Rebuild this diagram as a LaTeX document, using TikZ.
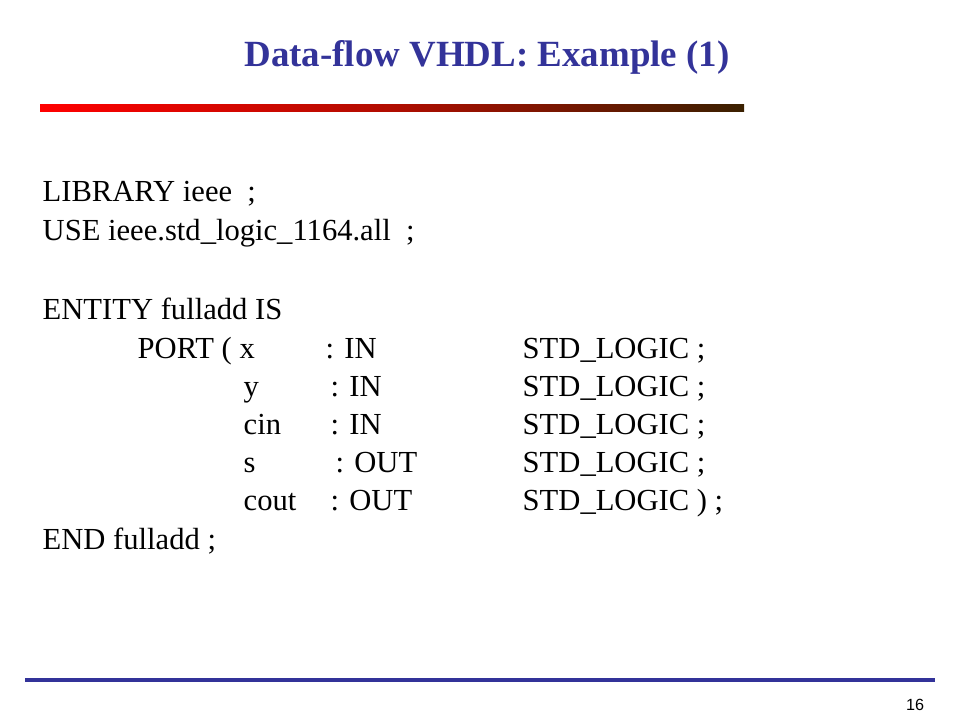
\documentclass[tikz,border=0pt]{standalone}
\usepackage{fontspec}
\setmainfont{Liberation Serif}
\setsansfont{Liberation Sans}
\definecolor{ttl}{HTML}{333399}
\definecolor{brn}{HTML}{3A2000}
\begin{document}
\begin{tikzpicture}[x=0.01cm,y=-0.01cm,
  code/.style={anchor=base west,inner sep=0pt,font=\fontsize{8.7pt}{10pt}\selectfont}]
\useasboundingbox (0,0) rectangle (960,720);
\node[font=\bfseries\fontsize{10.5pt}{12pt}\selectfont,text=ttl,anchor=base] (title) at (487,66) {Data-flow VHDL: Example (1)};
\shade[left color=red,right color=brn,middle color=red!60!brn] (40,104) rectangle (744,111);
\draw[ttl,line width=1pt] (25,680) -- (935,680);
\node[font=\sffamily\fontsize{4.6pt}{5pt}\selectfont] (pg) at (915,705) {16};
\node[code] (l1) at (42,201) {LIBRARY ieee \ ;};
\node[code] (l2) at (42,240) {USE ieee.std\_logic\_1164.all \ ;};
\node[code] (l3) at (42,319) {ENTITY fulladd IS};
\node[code] (p0) at (137,358) {PORT ( x};
\node[code] (p1) at (243,396) {y};
\node[code] (p2) at (243,434) {cin};
\node[code] (p3) at (243,472) {s};
\node[code] (p4) at (243,510) {cout};
\node[code] (m0) at (325,358) {: IN};
\node[code] (m1) at (330,396) {: IN};
\node[code] (m2) at (330,434) {: IN};
\node[code] (m3) at (335,472) {: OUT};
\node[code] (m4) at (330,510) {: OUT};
\node[code] (t0) at (522,358) {STD\_LOGIC ;};
\node[code] (t1) at (522,396) {STD\_LOGIC ;};
\node[code] (t2) at (522,434) {STD\_LOGIC ;};
\node[code] (t3) at (522,472) {STD\_LOGIC ;};
\node[code] (t4) at (522,510) {STD\_LOGIC ) ;};
\node[code] (l9) at (42,549) {END fulladd ;};
\end{tikzpicture}
\end{document}
